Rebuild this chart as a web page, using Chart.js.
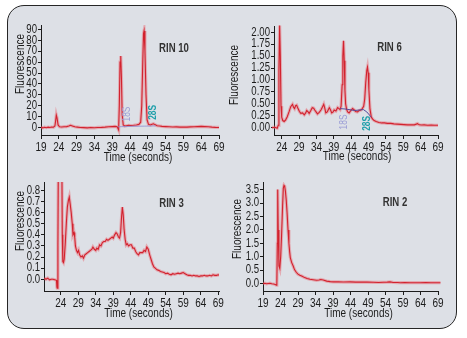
<!DOCTYPE html>
<html><head><meta charset="utf-8">
<script src="https://cdn.jsdelivr.net/npm/chart.js@4.4.1/dist/chart.umd.min.js"></script>
<style>
html,body{margin:0;padding:0;background:#fff;}
#wrap{position:relative;width:467px;height:338px;overflow:hidden;}
#box{position:absolute;left:7px;top:5px;width:450px;height:324px;box-sizing:border-box;border:1.6px solid #262626;border-radius:17px;background:#dde0e6;}
canvas{position:absolute;}
</style></head><body>
<div id="wrap"><div id="box"></div>
<canvas id="c1" width="234" height="169" style="left:0px;top:0px"></canvas>
<canvas id="c2" width="245" height="169" style="left:222px;top:0px"></canvas>
<canvas id="c3" width="234" height="169" style="left:0px;top:169px"></canvas>
<canvas id="c4" width="245" height="169" style="left:222px;top:169px"></canvas>
</div>
<script>
// ---------- data ----------
const xTicksAll = [19,24,29,34,39,44,49,54,59,64,69];
const xTicksFrom24 = [24,29,34,39,44,49,54,59,64,69];
const yTicksRin10 = [0,10,20,30,40,50,60,70,80,90];
const yTicksRin6 = [0,0.25,0.5,0.75,1,1.25,1.5,1.75,2];
const yTicksRin3 = [0,0.1,0.2,0.3,0.4,0.5,0.6,0.7,0.8];
const yTicksRin2 = [0,0.5,1,1.5,2,2.5,3,3.5];
const panelNames = ['RIN 10','RIN 6','RIN 3','RIN 2'];
const peakNames = ['18S','28S'];
const xTitle = 'Time (seconds)';
const yTitle = 'Fluorescence';

const rin10Time = [19,19.5,20,20.5,21,21.5,22,22.5,22.9,23.1,23.3,23.5,23.8,24.2,24.8,25.5,26.2,26.8,27.3,27.8,28.5,29.2,30,31,32,33,34,35,36,37,38,39,39.8,40.4,40.8,41.0,41.2,41.4,41.6,41.8,42.1,42.5,43,43.6,44.2,45,45.8,46.5,47.0,47.3,47.6,47.8,47.95,48.2,48.5,48.8,49.2,49.7,50.2,50.6,51.0,51.6,52.3,53,54,55,56,57,58,59,60,61,62,63,64,65,66,67,68,69,70,71,72.3];
const rin10Fluor = [0.3,-0.2,0.4,0.0,0.5,0.2,0.6,0.4,1.5,6,11.5,9,2.5,0.8,0.6,0.9,1.0,1.6,2.2,1.6,0.8,0.5,0.2,0.0,-0.2,0.1,-0.1,0.2,0.3,0.5,0.8,1.0,1.2,0.8,-2.0,20,60,65.5,45,12,2.5,1.5,1.8,2.2,2.0,2.2,2.5,3.0,5,20,62,86,88.5,70,30,7,3.0,2.5,3.2,3.6,2.8,1.8,1.5,1.2,1.0,0.8,0.6,0.7,0.5,0.6,0.5,0.7,0.8,1.0,1.2,1.0,0.8,0.5,0.3,0.2,0.0,0.2,0.1];
const rin10BaseTime = [40.6,44,48,51.2];
const rin10BaseFluor = [0.8,1.2,1.4,1.6];

const rin6Time = [19.8,20.5,21.2,22,22.7,23.0,23.2,23.4,23.6,23.8,24.0,24.3,24.7,25.1,25.6,26.1,26.6,27.1,27.4,27.7,28.0,28.3,28.7,29.1,29.5,30.0,30.5,30.9,31.2,31.6,31.9,32.3,32.8,33.2,33.5,33.9,34.3,34.8,35.3,35.7,36.1,36.4,36.7,37.1,37.7,38.0,38.4,38.8,39.1,39.6,40.1,40.5,40.8,41.1,41.4,41.6,41.8,42.0,42.2,42.4,42.7,43.0,43.4,43.9,44.4,44.9,45.3,45.8,46.3,46.8,47.2,47.6,47.9,48.2,48.5,48.7,48.9,49.1,49.4,49.8,50.2,50.6,51.2,52,52.8,53.6,54.4,55.4,56.3,57.2,58.3,59.2,60.2,61.2,62.2,63.1,63.6,64.3,65.0,66,67,68,69];
const rin6Fluor = [0.01,-0.01,0.0,0.01,-0.01,0.05,1.2,2.14,1.5,0.45,0.22,0.15,0.13,0.16,0.23,0.33,0.44,0.49,0.43,0.40,0.46,0.47,0.40,0.34,0.30,0.31,0.27,0.31,0.36,0.33,0.30,0.35,0.42,0.41,0.37,0.33,0.29,0.32,0.37,0.43,0.49,0.41,0.31,0.33,0.42,0.38,0.31,0.33,0.37,0.35,0.42,0.40,0.38,0.45,0.9,1.5,1.82,1.4,0.8,0.50,0.38,0.33,0.31,0.36,0.40,0.37,0.34,0.33,0.36,0.37,0.40,0.45,0.6,0.95,1.2,1.27,1.15,0.8,0.4,0.22,0.18,0.15,0.13,0.11,0.10,0.10,0.09,0.09,0.08,0.075,0.07,0.065,0.06,0.06,0.06,0.085,0.06,0.055,0.06,0.05,0.055,0.05,0.05];
const rin6BaseTime = [40.8,42.5,45,47.5,48.5,49.8];
const rin6BaseFluor = [0.40,0.39,0.36,0.38,0.33,0.22];

const rin3Time = [19.3,19.8,20.3,20.8,21.3,21.8,22.3,22.8,22.9,23.0,23.2,23.35,24.3,24.45,24.6,24.8,25.0,25.3,25.6,25.9,26.2,26.45,26.7,27.0,27.3,27.5,27.8,28.0,28.2,28.5,28.8,29.1,29.4,29.8,30.2,30.5,30.9,31.3,31.7,32.1,32.5,32.9,33.2,33.6,34.0,34.3,34.7,35.1,35.5,35.9,36.3,36.7,37.1,37.5,37.9,38.3,38.7,39.0,39.4,39.8,40.1,40.5,40.8,41.1,41.35,41.6,41.85,42.1,42.4,42.7,43.0,43.4,43.8,44.2,44.6,45.0,45.4,45.8,46.2,46.6,47.0,47.4,47.8,48.2,48.6,49.0,49.4,49.8,50.2,50.6,51.0,51.5,52.0,52.5,53.0,53.5,54.0,54.5,55.0,55.5,56.0,56.5,57.0,57.5,58.0,58.5,59.0,59.5,60.0,60.5,61.0,61.5,62.0,62.5,63.0,63.5,64.0,64.5,65.0,65.5,66.0,66.5,67.0,67.5,68.0,68.5,69.0,69.3];
const rin3Fluor = [0.01,0.0,0.01,-0.005,0.0,0.0,-0.005,-0.01,-0.07,-0.08,0.3,1.2,1.2,0.4,0.16,0.15,0.18,0.32,0.50,0.65,0.71,0.74,0.68,0.60,0.50,0.40,0.42,0.38,0.30,0.26,0.24,0.26,0.22,0.20,0.21,0.19,0.22,0.23,0.24,0.25,0.26,0.27,0.29,0.27,0.26,0.28,0.27,0.31,0.30,0.33,0.34,0.34,0.36,0.35,0.36,0.37,0.38,0.37,0.40,0.42,0.41,0.38,0.37,0.42,0.55,0.65,0.58,0.45,0.36,0.31,0.32,0.30,0.31,0.31,0.28,0.28,0.25,0.23,0.22,0.24,0.24,0.24,0.26,0.25,0.29,0.27,0.22,0.18,0.14,0.11,0.10,0.085,0.08,0.07,0.065,0.06,0.05,0.055,0.045,0.04,0.05,0.045,0.05,0.055,0.05,0.055,0.06,0.05,0.04,0.035,0.035,0.03,0.035,0.03,0.03,0.025,0.03,0.03,0.035,0.03,0.03,0.035,0.03,0.04,0.035,0.035,0.04,0.035];

const rin2Time = [19.0,19.5,20.0,20.5,21.0,21.5,22.0,22.5,22.8,22.95,23.1,23.2,23.35,23.55,23.8,24.05,24.3,24.6,24.8,25.0,25.2,25.4,25.65,25.9,26.15,26.4,26.6,26.8,27.2,27.6,28.0,28.5,29.0,29.5,30.2,30.9,31.6,32.4,33.3,34.3,35.0,35.5,36.2,37.2,38.2,39.1,40.5,42.0,43.9,45.5,47.0,48.7,50.5,52.0,53.4,54.5,55.3,56.2,57.5,58.2,59.5,61.0,62.5,63.9,65.5,67.0,68.5,69.7];
const rin2Fluor = [0.0,0.01,-0.01,0.0,0.01,-0.01,-0.02,-0.04,-0.06,-0.02,1.5,3.51,2.0,0.66,0.56,1.0,1.78,2.9,3.55,3.66,3.62,3.45,3.1,2.6,2.0,1.5,1.2,0.97,0.78,0.66,0.52,0.42,0.35,0.31,0.27,0.22,0.19,0.16,0.14,0.12,0.13,0.15,0.13,0.09,0.07,0.06,0.06,0.055,0.06,0.05,0.055,0.05,0.045,0.04,0.045,0.05,0.06,0.04,0.035,0.03,0.035,0.03,0.03,0.03,0.035,0.03,0.03,0.03];

// ---------- drawing ----------
const FAM = '"Liberation Sans Narrow","Liberation Sans",Arial,sans-serif';
Chart.defaults.font.family = FAM;
const AX = '#1c1c1c';
const NARROW = 0.8; // horizontal condensing of all text (condensed typeface look)

function condense(canvas, k){
  const ctx = canvas.getContext('2d');
  const orig = ctx.fillText.bind(ctx);
  ctx.fillText = function(t, x, y){
    this.save(); this.translate(x, y); this.scale(k, 1); orig(t, 0, 0); this.restore();
  };
  return canvas;
}

function textPlugin(items){
  return { id:'panelText', afterDatasetsDraw(chart){
    const ctx = chart.ctx;
    items.forEach(it => {
      ctx.save();
      ctx.font = it.font; ctx.fillStyle = it.color;
      ctx.textAlign = 'center'; ctx.textBaseline = 'middle';
      let x = it.x, y = it.y;
      if (it.data){ x = chart.scales.x.getPixelForValue(it.x); y = chart.scales.y.getPixelForValue(it.y); }
      ctx.translate(x, y);
      if (it.rot) ctx.rotate(it.rot);
      ctx.fillText(it.text, 0, 0);
      ctx.restore();
    });
  }};
}

function makePanel(id, p){
  const pts = p.time.map((t,i)=>({x:t, y:p.fluor[i]}));
  const datasets = [
    {data:pts, borderColor:'rgba(232,105,115,0.45)', borderWidth:3.2, order:3},
    {data:pts, borderColor:'#d2222e', borderWidth:1.1, order:2}
  ];
  if (p.baseTime) datasets.push({data:p.baseTime.map((t,i)=>({x:t, y:p.baseFluor[i]})), borderColor:p.baseColor, borderWidth:1, order:1});
  datasets.forEach(d => { d.pointRadius = 0; d.tension = 0; d.fill = false; d.clip = p.clip; });
  const texts = [
    {text:xTitle, x:p.xt[0], y:p.xt[1], font:'12.5px '+FAM, color:AX},
    {text:yTitle, x:p.yt[0], y:p.yt[1], rot:-Math.PI/2, font:'12.5px '+FAM, color:AX},
    {text:p.name, x:p.rin[0], y:p.rin[1], font:'bold 12px '+FAM, color:'#333'}
  ].concat(p.peaks || []);
  new Chart(condense(document.getElementById(id), NARROW), {
    type:'line',
    data:{datasets},
    options:{
      responsive:false, animation:false, events:[],
      layout:{padding:p.padding},
      plugins:{legend:{display:false}, tooltip:{enabled:false}},
      scales:{
        x:{type:'linear', min:p.xMin, max:p.xMax,
          afterBuildTicks:s=>{ s.ticks = p.xTicks.map(v=>({value:v})); },
          afterFit:s=>{ s.height = p.xHeight; },
          grid:{display:true, drawOnChartArea:false, drawTicks:true, tickLength:4, color:AX, lineWidth:1},
          border:{display:true, color:AX, width:1},
          ticks:{color:AX, font:{size:12.5}, padding:1.5, maxRotation:0, autoSkip:false, callback:v=>String(v)}
        },
        y:{type:'linear', min:p.yMin, max:p.yMax,
          afterBuildTicks:s=>{ s.ticks = p.yTicks.map(v=>({value:v})); },
          afterFit:s=>{ s.width = p.yWidth; },
          grid:{display:true, drawOnChartArea:false, drawTicks:true, tickLength:3, color:AX, lineWidth:1},
          border:{display:true, color:AX, width:1},
          ticks:{color:AX, font:{size:12}, padding:1, autoSkip:false, callback:v=>v.toFixed(p.dec)}
        }
      }
    },
    plugins:[textPlugin(texts)]
  });
}

const LAV = '#9a9dd6', TEAL = '#1f9faa';
const PEAKFONT = '10.5px ' + FAM, PEAKFONTB = 'bold 10.5px ' + FAM;
makePanel('c1', {time:rin10Time, fluor:rin10Fluor, baseTime:rin10BaseTime, baseFluor:rin10BaseFluor, baseColor:'rgba(140,140,210,0.8)',
  name:panelNames[0], xMin:19, xMax:69, xTicks:xTicksAll, yMin:-6.7, yMax:93.9, yTicks:yTicksRin10, dec:0,
  yWidth:41, xHeight:34, padding:{left:0, top:25, right:15, bottom:0}, clip:{left:0, top:0, right:false, bottom:0},
  xt:[138,157.5], yt:[21,64], rin:[174,49],
  peaks:[{text:peakNames[0], data:true, x:43.3, y:12.5, rot:-Math.PI/2, font:PEAKFONT, color:LAV},
         {text:peakNames[1], data:true, x:50.6, y:14, rot:-Math.PI/2, font:PEAKFONTB, color:TEAL}]});

makePanel('c2', {time:rin6Time, fluor:rin6Fluor, baseTime:rin6BaseTime, baseFluor:rin6BaseFluor, baseColor:'#55489a',
  name:panelNames[1], xMin:21.78, xMax:69, xTicks:xTicksFrom24, yMin:-0.153, yMax:2.13, yTicks:yTicksRin6, dec:2,
  yWidth:52, xHeight:34, padding:{left:0, top:26, right:29, bottom:0}, clip:false,
  xt:[135,156.5], yt:[13,75], rin:[167.5,48],
  peaks:[{text:peakNames[0], data:true, x:42, y:0.12, rot:-Math.PI/2, font:PEAKFONT, color:LAV},
         {text:peakNames[1], data:true, x:48.6, y:0.09, rot:-Math.PI/2, font:PEAKFONTB, color:TEAL}]});

makePanel('c3', {time:rin3Time, fluor:rin3Fluor,
  name:panelNames[2], xMin:19.23, xMax:69.2, xTicks:xTicksFrom24, yMin:-0.106, yMax:0.876, yTicks:yTicksRin3, dec:1,
  yWidth:44, xHeight:47, padding:{left:0, top:13, right:15, bottom:0}, clip:0,
  xt:[138.5,144.5], yt:[21,52], rin:[171.5,35]});

makePanel('c4', {time:rin2Time, fluor:rin2Fluor,
  name:panelNames[3], xMin:19, xMax:69, xTicks:xTicksAll, yMin:-0.28, yMax:3.79, yTicks:yTicksRin2, dec:1,
  yWidth:41, xHeight:47, padding:{left:0, top:13, right:29, bottom:0}, clip:{left:0, top:0, right:false, bottom:0},
  xt:[136.5,144.5], yt:[15.3,60], rin:[173,34]});
</script>
</body></html>
